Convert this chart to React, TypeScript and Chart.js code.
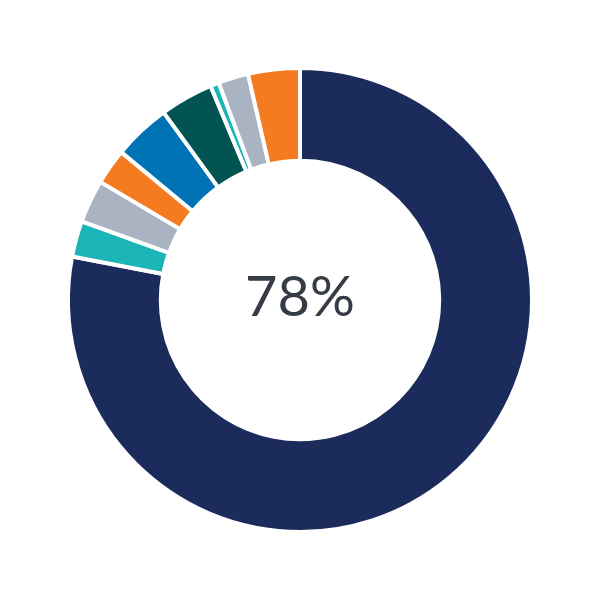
import React, { useEffect, useRef } from "react";
import { Chart, registerables } from "chart.js";

Chart.register(...registerables);

const categories = ["A", "B", "C", "D", "E", "F", "G", "H", "I"];
const values = [78, 2.5, 3, 2.5, 4, 3.7, 0.6, 2.1, 3.6];
const colors = [
  "#1b2b5b",
  "#1cb5b7",
  "#aab3c1",
  "#f47b20",
  "#0073b6",
  "#025453",
  "#1cb5b7",
  "#aab3c1",
  "#f47b20",
];
const centerLabel = "78%";

export default function App() {
  const ref = useRef<HTMLCanvasElement | null>(null);
  useEffect(() => {
    if (!ref.current) return;
    const chart = new Chart(ref.current, {
      type: "doughnut",
      data: {
        labels: categories,
        datasets: [
          {
            data: values,
            backgroundColor: colors,
            borderColor: "#ffffff",
            borderWidth: 4,
          },
        ],
      },
      options: {
        animation: false,
        responsive: false,
        cutout: "60%",
        layout: { padding: 58 },
        plugins: {
          legend: { display: false },
          tooltip: { enabled: false },
        },
      },
    });
    return () => chart.destroy();
  }, []);
  return (
    <div style={{ position: "relative", width: 584, height: 584 }}>
      <canvas ref={ref} width={584} height={584} style={{ width: 584, height: 584 }} />
      <div
        style={{
          position: "absolute",
          left: 0,
          top: -6,
          width: 584,
          height: 584,
          display: "flex",
          alignItems: "center",
          justifyContent: "center",
          fontFamily: "Lato, 'Open Sans', sans-serif",
          fontSize: 56,
          fontWeight: 400,
          color: "#363c45",
          pointerEvents: "none",
        }}
      >
        {centerLabel}
      </div>
    </div>
  );
}
